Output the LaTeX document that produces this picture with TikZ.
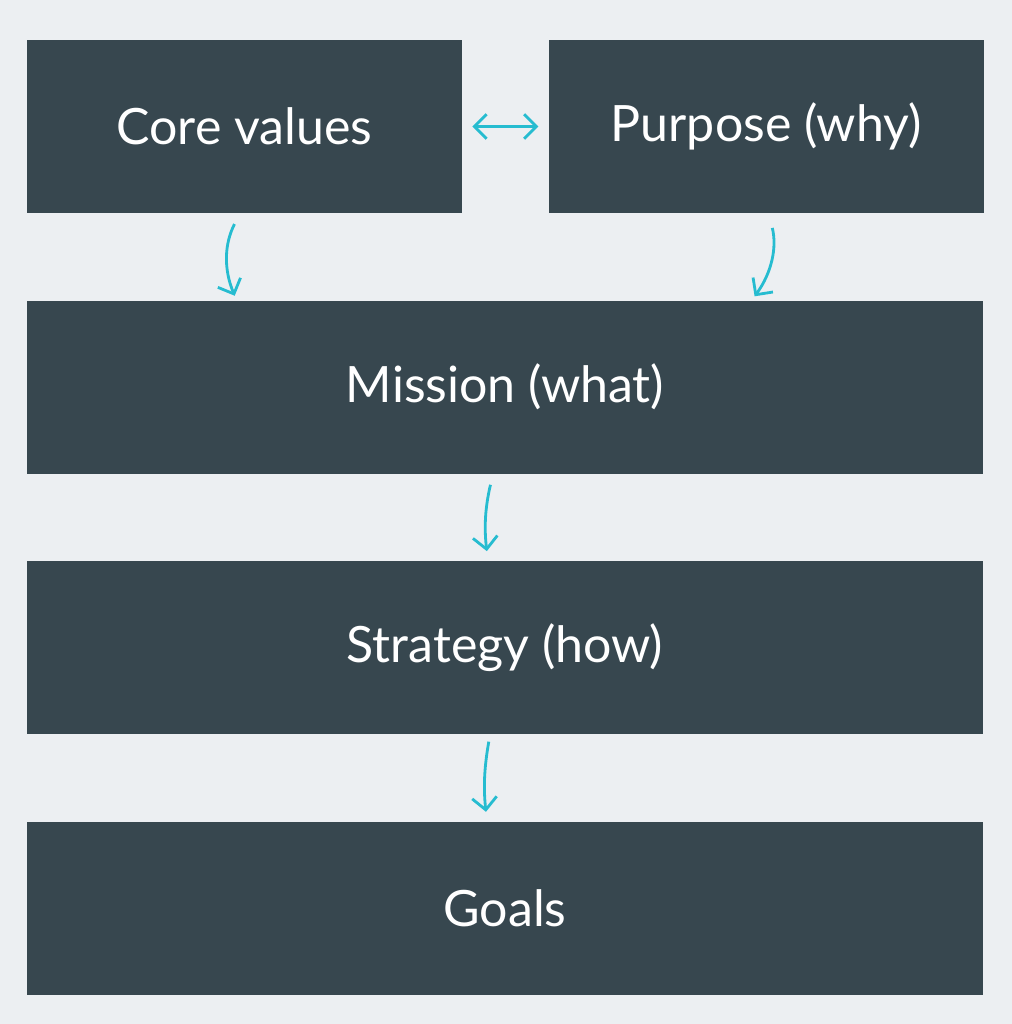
\documentclass[tikz,border=0pt]{standalone}
\usepackage{fontspec}
\setmainfont{Lato}
\usetikzlibrary{positioning, arrows.meta}
\definecolor{slate}{HTML}{37474F}
\definecolor{paper}{HTML}{ECEFF2}
\definecolor{teal}{HTML}{26BCD0}
\tikzset{
  box/.style = {rectangle, fill=slate, text=white, minimum width=8.7cm, minimum height=3.46cm,
    inner sep=0pt, font=\fontsize{28.5}{32}\selectfont},
  widebox/.style = {box, minimum width=19.12cm},
  flow/.style = {draw=teal, line width=1.6pt, ->, >={Straight Barb[length=7pt,width=14pt,line width=1.6pt]}},
}
\begin{document}
\begin{tikzpicture}
  \fill[paper] (0,0) rectangle (20.24,-20.48);
  \useasboundingbox (0,0) rectangle (20.24,-20.48);
  \node (core) [box] at (4.89,-2.53) {Core values};
  \node (purpose) [box, right=1.72cm of core] {Purpose (why)};
  \node (mission) [widebox, below=1.74cm of core.south west, anchor=north west] {Mission (what)};
  \node (strategy) [widebox, below=1.74cm of mission] {Strategy (how)};
  \node (goals) [widebox, below=1.74cm of strategy] {Goals};
  \draw [flow, <->, shorten <=0.2cm, shorten >=0.2cm] (core) -- (purpose);
  \draw [flow, shorten <=0.24cm, shorten >=0.1cm] ([xshift=-0.09cm]core.south) to[bend right=25] ([xshift=4.2cm]mission.north west);
  \draw [flow, shorten <=0.3cm, shorten >=0.1cm] ([xshift=0.05cm]purpose.south) to[bend left=25] ([xshift=14.5cm]mission.north west);
  \draw [flow, shorten <=0.22cm, shorten >=0.2cm] ([xshift=-0.24cm]mission.south) to[bend right=10] ([xshift=-0.34cm]strategy.north);
  \draw [flow, shorten <=0.14cm, shorten >=0.2cm] ([xshift=-0.3cm]strategy.south) to[bend right=8] ([xshift=-0.36cm]goals.north);
\end{tikzpicture}
\end{document}
